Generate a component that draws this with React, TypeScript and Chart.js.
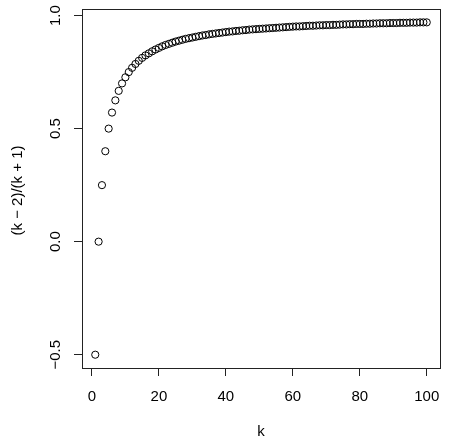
import React, { useEffect, useRef } from "react";
import { Chart, registerables } from "chart.js";

Chart.register(...registerables);

const kValues = [
  1, 2, 3, 4, 5, 6, 7, 8, 9, 10, 11, 12, 13, 14, 15, 16, 17, 18, 19, 20,
  21, 22, 23, 24, 25, 26, 27, 28, 29, 30, 31, 32, 33, 34, 35, 36, 37, 38, 39, 40,
  41, 42, 43, 44, 45, 46, 47, 48, 49, 50, 51, 52, 53, 54, 55, 56, 57, 58, 59, 60,
  61, 62, 63, 64, 65, 66, 67, 68, 69, 70, 71, 72, 73, 74, 75, 76, 77, 78, 79, 80,
  81, 82, 83, 84, 85, 86, 87, 88, 89, 90, 91, 92, 93, 94, 95, 96, 97, 98, 99, 100,
];

const ratioValues = [
  -0.5, 0, 0.25, 0.4, 0.5, 0.571, 0.625, 0.667, 0.7, 0.727,
  0.75, 0.769, 0.786, 0.8, 0.813, 0.824, 0.833, 0.842, 0.85, 0.857,
  0.864, 0.87, 0.875, 0.88, 0.885, 0.889, 0.893, 0.897, 0.9, 0.903,
  0.906, 0.909, 0.912, 0.914, 0.917, 0.919, 0.921, 0.923, 0.925, 0.927,
  0.929, 0.93, 0.932, 0.933, 0.935, 0.936, 0.938, 0.939, 0.94, 0.941,
  0.942, 0.943, 0.944, 0.945, 0.946, 0.947, 0.948, 0.949, 0.95, 0.951,
  0.952, 0.952, 0.953, 0.954, 0.955, 0.955, 0.956, 0.957, 0.957, 0.958,
  0.958, 0.959, 0.959, 0.96, 0.961, 0.961, 0.962, 0.962, 0.963, 0.963,
  0.963, 0.964, 0.964, 0.965, 0.965, 0.966, 0.966, 0.966, 0.967, 0.967,
  0.967, 0.968, 0.968, 0.968, 0.969, 0.969, 0.969, 0.97, 0.97, 0.97,
];

const xTicks = [0, 20, 40, 60, 80, 100];
const yTicks = [-0.5, 0, 0.5, 1.0];
const yTickLabels = ["\u22120.5", "0.0", "0.5", "1.0"];
const xTitle = "k";
const yTitle = "(k \u2212 2)/(k + 1)";

const FONT = '15px "Liberation Sans", Arial, Helvetica, sans-serif';

const labelPlugin = {
  id: "rLabels",
  afterDraw(chart: any) {
    const ctx = chart.ctx;
    const { left, right, top, bottom } = chart.chartArea;
    const xs = chart.scales.x;
    const ys = chart.scales.y;
    ctx.save();
    ctx.strokeStyle = "#222";
    ctx.lineWidth = 1;
    ctx.strokeRect(Math.round(left) + 0.5, Math.round(top) + 0.5, Math.round(right - left), Math.round(bottom - top));
    ctx.fillStyle = "#000";
    ctx.font = FONT;
    ctx.textAlign = "center";
    ctx.textBaseline = "alphabetic";
    xTicks.forEach((v) => {
      ctx.fillText(String(v), xs.getPixelForValue(v), bottom + 33);
    });
    ctx.fillText(xTitle, (left + right) / 2, bottom + 68);
    yTicks.forEach((v, i) => {
      const y = ys.getPixelForValue(v);
      ctx.save();
      ctx.translate(left - 22, y);
      ctx.rotate(-Math.PI / 2);
      ctx.textAlign = "center";
      ctx.textBaseline = "alphabetic";
      ctx.fillText(yTickLabels[i], 0, 0);
      ctx.restore();
    });
    ctx.save();
    ctx.translate(18, (top + bottom) / 2 + 2);
    ctx.rotate(-Math.PI / 2);
    ctx.textAlign = "center";
    ctx.textBaseline = "middle";
    ctx.fillText(yTitle, 0, 0);
    ctx.restore();
    ctx.restore();
  },
};

export default function App() {
  const ref = useRef<HTMLCanvasElement | null>(null);
  useEffect(() => {
    document.body.style.margin = "0";
    const canvas = ref.current;
    if (!canvas) return;
    const chart = new Chart(canvas, {
      type: "scatter",
      data: {
        datasets: [
          {
            data: kValues.map((k, i) => ({ x: k, y: ratioValues[i] })),
            pointStyle: "circle",
            pointRadius: 3.6,
            pointBorderWidth: 1,
            pointBorderColor: "#000",
            pointBackgroundColor: "rgba(0,0,0,0)",
            showLine: false,
          },
        ],
      },
      options: {
        animation: false,
        responsive: true,
        maintainAspectRatio: false,
        devicePixelRatio: 1,
        layout: { padding: { left: 0, top: 9, right: 9, bottom: 0 } },
        plugins: {
          legend: { display: false },
          tooltip: { enabled: false },
        },
        events: [],
        scales: {
          x: {
            type: "linear",
            min: -2.96,
            max: 103.96,
            afterBuildTicks: (s: any) => {
              s.ticks = xTicks.map((v) => ({ value: v }));
            },
            afterFit: (s: any) => {
              s.height = 75;
            },
            ticks: { display: false },
            grid: {
              display: true,
              drawOnChartArea: false,
              drawTicks: true,
              tickLength: 8,
              color: "#222",
              lineWidth: 1,
            },
            border: { display: true, color: "#222", width: 1 },
          },
          y: {
            type: "linear",
            min: -0.5588,
            max: 1.0291,
            afterBuildTicks: (s: any) => {
              s.ticks = yTicks.map((v) => ({ value: v }));
            },
            afterFit: (s: any) => {
              s.width = 82;
            },
            ticks: { display: false },
            grid: {
              display: true,
              drawOnChartArea: false,
              drawTicks: true,
              tickLength: 8,
              color: "#222",
              lineWidth: 1,
            },
            border: { display: true, color: "#222", width: 1 },
          },
        },
      },
      plugins: [labelPlugin],
    });
    return () => chart.destroy();
  }, []);
  return (
    <div style={{ position: "fixed", left: 0, top: 0, width: 449, height: 443, background: "#fff" }}>
      <canvas ref={ref} />
    </div>
  );
}
